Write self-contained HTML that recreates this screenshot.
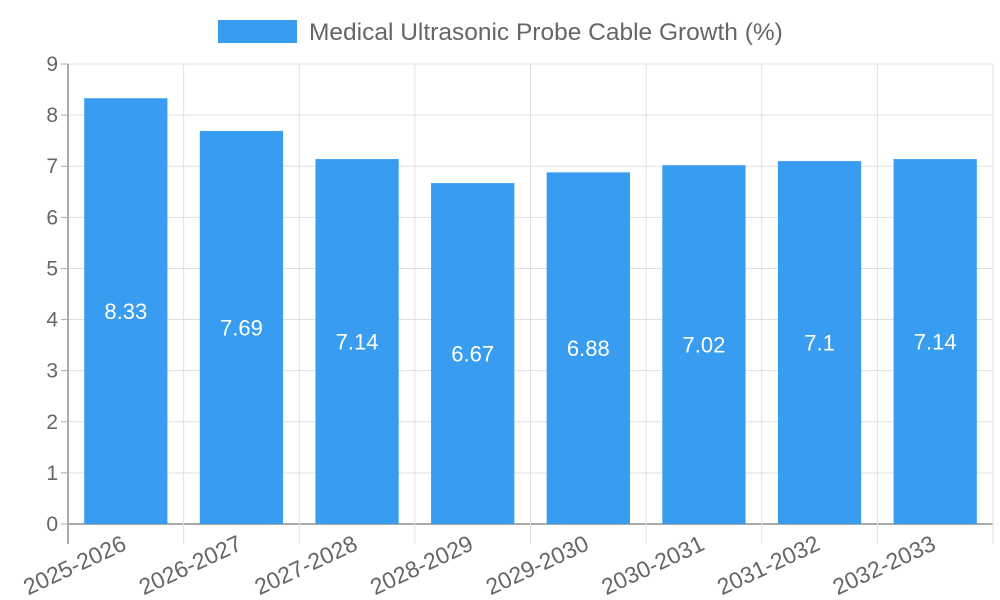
<!DOCTYPE html>
<html><head><meta charset="utf-8"><style>
body{margin:0;background:#fff}
svg{display:block;font-family:"Liberation Sans",sans-serif}
</style></head><body>
<svg id="chart" width="1000" height="600" viewBox="0 0 1000 600">
<g>
<rect x="218" y="20" width="79" height="23" fill="#389cf0"/>
<text x="309" y="40" font-size="24.5" fill="#666">Medical Ultrasonic Probe Cable Growth (%)</text>
</g>
<g id="grid"></g>
<g id="bars"></g>
<g id="axes"></g>
</svg>
<script>
const categories=["2025-2026","2026-2027","2027-2028","2028-2029","2029-2030","2030-2031","2031-2032","2032-2033"];
const growthValues=[8.33,7.69,7.14,6.67,6.88,7.02,7.1,7.14];
const yTicks=[0,1,2,3,4,5,6,7,8,9];
const NS="http://www.w3.org/2000/svg";
const L=68,R=993,T=64,B=524,yMax=9;
const bw=(R-L)/categories.length;
const y=v=>B-(v/yMax)*(B-T);
const xc=i=>L+bw*(i+0.5);
function mk(tag,attrs,parent){const e=document.createElementNS(NS,tag);for(const k in attrs)e.setAttribute(k,attrs[k]);parent.appendChild(e);return e;}
const grid=document.getElementById('grid'),bars=document.getElementById('bars'),axes=document.getElementById('axes');
yTicks.forEach(t=>{
 const ln=mk('line',{x1:L,x2:R,y1:y(t),y2:y(t),stroke:t===0?'#aaa':'#e0e0e0','stroke-width':t===0?2:1},grid);
 
 
 const tk=mk('line',{x1:L-7,x2:L,y1:y(t),y2:y(t),stroke:'#aaa','stroke-width':1},axes);
 
 
 const tx=mk('text',{x:L-10,y:y(t)+7,'text-anchor':'end','font-size':21,fill:'#666'},axes);
 tx.textContent=t;
 
 
});
for(let i=0;i<=categories.length;i++){
 const x=L+bw*i;
 const ln=mk('line',{x1:x,x2:x,y1:T,y2:B+20,stroke:i===0?'#aaa':'#e0e0e0','stroke-width':i===0?2:1},grid);
 
 
}
categories.forEach((c,i)=>{
 const w=bw*0.72,v=growthValues[i];
 const r=mk('rect',{x:xc(i)-w/2,y:y(v),width:w,height:B-y(v),fill:'#389cf0'},bars);
 
 
 const vt=mk('text',{x:xc(i),y:(y(v)+B)/2+8,'text-anchor':'middle','font-size':22,fill:'#fff'},bars);
 vt.textContent=v;
 
 
 const lx=xc(i)+2,ly=549;
 const ct=mk('text',{x:lx,y:ly,'text-anchor':'end','font-size':23,fill:'#666',transform:`rotate(-25 ${lx} ${ly})`},axes);
 ct.textContent=c;
 
 
});
</script>
</body></html>
